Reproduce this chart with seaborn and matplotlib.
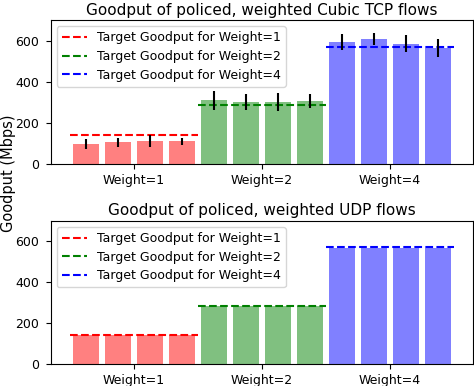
import numpy as np
import pandas as pd
import matplotlib
matplotlib.use("Agg")
import matplotlib.pyplot as plt
import seaborn as sns

weights = ["Weight=1", "Weight=2", "Weight=4"]
targets = [1000 / 7, 2000 / 7, 4000 / 7]
bar_colors = ["#ff8080", "#80c080", "#8080ff"]
line_colors = ["red", "green", "blue"]

tcp_goodput = [98, 105, 111, 111, 309, 302, 302, 307, 592, 608, 586, 566]
tcp_err = [23, 22, 30, 18, 44, 38, 45, 36, 38, 30, 40, 44]
udp_goodput = [142, 142, 142, 142, 284, 284, 284, 284, 569, 569, 569, 569]

fig = plt.figure(figsize=(4.74, 3.86), dpi=100)
ax1 = fig.add_axes([0.107, 0.575, 0.891, 0.373])
ax2 = fig.add_axes([0.107, 0.056, 0.891, 0.372])


def draw(ax, values, errs, title):
    n = len(values)
    df = pd.DataFrame({
        "flow": np.arange(n),
        "goodput": values,
        "weight": [weights[i // 4] for i in range(n)],
    })
    sns.barplot(data=df, x="flow", y="goodput", hue="weight", palette=bar_colors,
                dodge=False, saturation=1, errorbar=None, legend=False, ax=ax)
    if errs is not None:
        ax.errorbar(df["flow"], values, yerr=errs, fmt="none", ecolor="black",
                    elinewidth=1.5, capsize=0, zorder=4)
    for g, (t, c) in enumerate(zip(targets, line_colors)):
        ax.hlines(t, 4 * g - 0.5, 4 * g + 3.5, colors=c, linestyles="--", lw=1.5,
                  zorder=3, label=f"Target Goodput for {weights[g]}")
    ax.set_xlim(-1.1, 12.1)
    ax.set_ylim(0, 700)
    ax.set_yticks([0, 200, 400, 600])
    ax.set_xticks([1.5, 5.5, 9.5])
    ax.set_xticklabels(weights)
    ax.tick_params(labelsize=9)
    ax.tick_params(axis="y", pad=5)
    ax.set_xlabel("")
    ax.set_ylabel("")
    ax.set_title(title, fontsize=11, pad=4)
    ax.legend(loc="upper left", fontsize=9, labelspacing=0.45)


draw(ax1, tcp_goodput, tcp_err, "Goodput of policed, weighted Cubic TCP flows")
draw(ax2, udp_goodput, None, "Goodput of policed, weighted UDP flows")

fig.text(0.003, 0.552, "Goodput (Mbps)", rotation=90, va="center", ha="left", fontsize=10.5)

fig.savefig("out.png", dpi=100)
